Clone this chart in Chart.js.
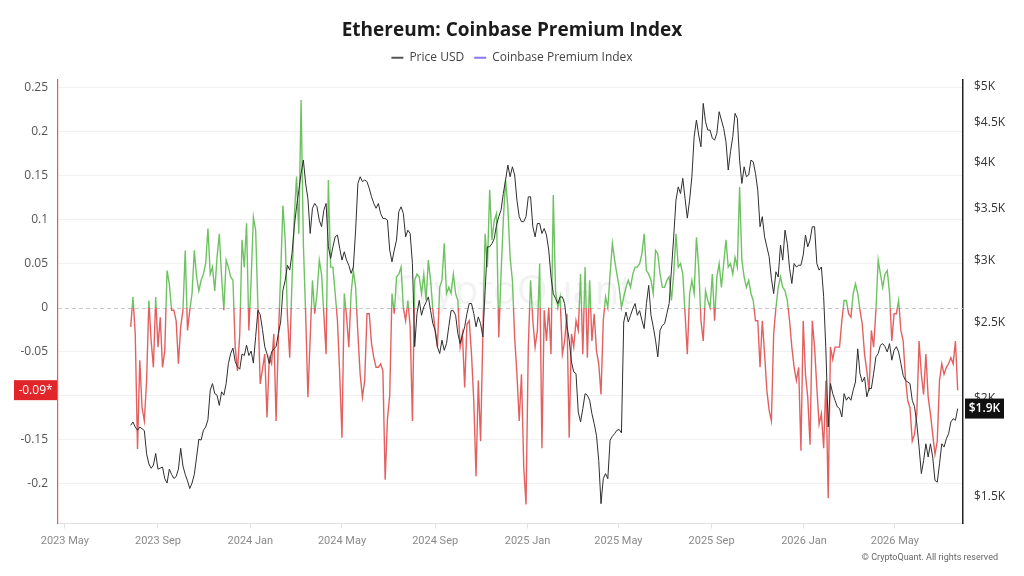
<!DOCTYPE html>
<html>
<head>
<meta charset="utf-8">
<script src="https://cdn.jsdelivr.net/npm/chart.js@4.4.1/dist/chart.umd.min.js"></script>
<style>
html,body{margin:0;padding:0;background:#fff;}
#wrap{position:relative;width:1024px;height:576px;}
canvas{display:block;}
</style>
</head>
<body>
<div id="wrap"><canvas id="c" width="1024" height="576"></canvas></div>
<script>
// ---------- data ----------
const startDate = '2023-07-27';
const stepDays = 3;

const premium = [
 -0.022, 0.012, -0.03, -0.161, -0.06, -0.114, -0.129, -0.083, 0.008, -0.038,
 -0.068, 0.012, -0.045, -0.011, -0.068, -0.049, 0.042, 0.027, -0.003, -0.003,
 -0.015, -0.064, -0.022, -0.003, 0.065, -0.026, -0.003, 0.016, 0.065, 0.035,
 0.019, 0.031, 0.038, 0.050, 0.090, 0.038, 0.046, 0.019, 0.057, 0.084,
 0.035, -0.003, 0.054, 0.046, 0.035, 0.031, -0.045, -0.072, -0.030, 0.077,
 0.046, 0.096, -0.026, 0.031, 0.103, 0.088, 0.0, -0.087, -0.07, -0.053,
 -0.125, -0.057, -0.064, -0.030, -0.129, -0.034, 0.038, 0.116, 0.077, -0.01,
 -0.057, 0.031, 0.103, 0.149, 0.084, 0.236, 0.072, -0.007, -0.102, -0.034,
 0.031, -0.007, 0.016, 0.054, 0.038, -0.007, -0.053, 0.145, 0.046, 0.046,
 0.016, -0.015, -0.076, -0.148, 0.016, -0.01, -0.045, 0.016, 0.042, 0.023,
 -0.030, -0.076, -0.102, -0.083, -0.007, -0.007, -0.041, -0.057, -0.068, -0.068,
 -0.064, -0.072, -0.196, -0.127, -0.100, 0.016, -0.007, 0.035, 0.038, 0.046,
 0.0, -0.015, 0.008, -0.022, -0.129, 0.031, 0.038, 0.035, 0.016, 0.038,
 0.008, 0.054, 0.031, -0.003, -0.026, -0.045, 0.023, 0.031, 0.073, 0.016,
 0.023, 0.016, 0.038, 0.016, 0.008, -0.045, -0.030, -0.091, -0.019, -0.015,
 -0.053, -0.106, -0.192, -0.083, -0.152, -0.030, 0.084, 0.046, 0.134, 0.077,
 0.099, 0.107, -0.034, 0.038, 0.099, 0.145, 0.114, 0.057, 0.031, -0.034,
 -0.076, -0.129, -0.076, -0.182, -0.224, -0.045, 0.031, -0.015, -0.045, -0.026,
 0.050, -0.160, -0.003, -0.038, 0.0, -0.053, 0.128, 0.019, 0.0, 0.012,
 -0.053, -0.038, -0.007, -0.148, -0.030, -0.045, -0.015, -0.026, 0.038, -0.053,
 0.046, -0.057, 0.031, -0.038, -0.007, -0.049, -0.064, -0.099, -0.015, 0.012,
 0.0, 0.038, 0.073, 0.054, 0.038, 0.023, 0.0, 0.012, 0.023, 0.031,
 0.023, 0.038, 0.046, 0.046, 0.050, 0.061, 0.084, 0.042, 0.038, 0.031,
 0.016, 0.065, 0.061, 0.038, 0.023, 0.023, 0.031, 0.035, 0.008, 0.038,
 0.084, 0.046, 0.050, 0.038, -0.007, -0.053, 0.016, 0.031, 0.016, 0.080,
 0.046, -0.015, -0.038, 0.019, 0.008, 0.0, 0.038, -0.015, 0.035, 0.050,
 0.023, 0.050, 0.077, 0.046, 0.050, 0.038, 0.057, 0.046, 0.137, 0.054,
 0.035, 0.023, 0.031, 0.016, 0.008, -0.015, -0.015, -0.068, -0.015, -0.053,
 -0.094, -0.117, -0.129, -0.030, 0.0, 0.023, 0.035, 0.023, 0.019, 0.008,
 -0.015, -0.045, -0.068, -0.083, -0.068, -0.163, -0.015, -0.076, -0.102, -0.156,
 -0.015, -0.045, -0.091, -0.133, -0.121, -0.160, -0.083, -0.217, -0.045, -0.059,
 -0.045, -0.045, -0.045, -0.015, 0.008, 0.008, -0.007, -0.011, 0.016, 0.027,
 0.016, -0.003, -0.019, -0.053, -0.072, -0.095, -0.026, -0.045, -0.003, 0.054,
 0.038, 0.023, 0.038, 0.042, 0.016, -0.038, -0.007, -0.007, 0.008, -0.026,
 -0.038, -0.080, -0.106, -0.114, -0.152, -0.144, -0.121, -0.038, -0.076, -0.099,
 -0.053, -0.102, -0.121, -0.144, -0.167, -0.152, -0.083, -0.064, -0.076, -0.068,
 -0.064, -0.057, -0.064, -0.038, -0.094
];

const price = [
 1849, 1867, 1839, 1822, 1839, 1830, 1820, 1700, 1650, 1629,
 1645, 1702, 1625, 1630, 1635, 1580, 1560, 1625, 1600, 1581,
 1590, 1625, 1728, 1640, 1600, 1570, 1535, 1560, 1600, 1684,
 1775, 1770, 1822, 1839, 1880, 2050, 2090, 2029, 2020, 1960,
 2040, 2020, 2090, 2217, 2283, 2320, 2230, 2195, 2180, 2280,
 2270, 2340, 2270, 2300, 2220, 2400, 2593, 2560, 2450, 2330,
 2280, 2217, 2294, 2315, 2330, 2421, 2505, 2750, 2832, 2960,
 2918, 3064, 3315, 3515, 3690, 3880, 4033, 3765, 3600, 3250,
 3500, 3550, 3515, 3380, 3315, 3480, 3550, 3125, 3020, 3125,
 3218, 3235, 3110, 3005, 3080, 3005, 2960, 2890, 2945, 3282,
 3765, 3840, 3785, 3803, 3785, 3710, 3620, 3550, 3500, 3550,
 3447, 3397, 3397, 3380, 3095, 2990, 3095, 3187, 3465, 3515,
 3447, 3218, 3282, 3250, 2975, 2330, 2568, 2670, 2555, 2618,
 2655, 2697, 2590, 2493, 2445, 2330, 2283, 2375, 2305, 2351,
 2470, 2590, 2590, 2555, 2421, 2351, 2410, 2470, 2568, 2645,
 2645, 2568, 2470, 2543, 2493, 2398, 2750, 3125, 3125, 3155,
 3200, 3330, 3415, 3480, 3655, 3803, 3974, 3840, 3954, 3860,
 3585, 3415, 3365, 3365, 3415, 3620, 3620, 3315, 3218, 3347,
 3347, 3250, 3298, 3235, 3095, 2860, 2723, 2684, 2645, 2697,
 2697, 2645, 2480, 2375, 2228, 2163, 2152, 1922, 1867, 1942,
 2029, 2019, 1990, 1913, 1858, 1795, 1667, 1468, 1580, 1604,
 1580, 1769, 1790, 1804, 1822, 1826, 1808, 2505, 2580, 2505,
 2555, 2605, 2645, 2555, 2590, 2518, 2457, 2645, 2790, 2555,
 2470, 2375, 2261, 2445, 2480, 2493, 2568, 2645, 2918, 3218,
 3585, 3728, 3655, 3822, 3600, 3400, 3585, 3841, 4320, 4537,
 4342, 4194, 4765, 4515, 4405, 4405, 4300, 4278, 4363, 4650,
 4537, 4427, 4257, 3917, 4133, 4320, 4627, 4560, 4033, 3765,
 3954, 3841, 3860, 4033, 4013, 3879, 3690, 3315, 3415, 3218,
 3125, 3035, 2846, 2723, 2904, 2860, 3140, 3005, 3282, 3155,
 2932, 2805, 2975, 2945, 2960, 2960, 3050, 3235, 3125, 3187,
 3315, 3315, 2975, 2918, 2945, 2700, 2300, 1840, 2090, 2029,
 1990, 1952, 1942, 1895, 2029, 1990, 2010, 1990, 2050, 2100,
 2315, 2152, 2100, 2130, 2010, 2060, 2060, 2152, 2261, 2283,
 2340, 2351, 2330, 2294, 2351, 2239, 2305, 2330, 2294, 2217,
 2141, 2110, 2100, 2090, 1990, 1952, 1858, 1734, 1604, 1667,
 1751, 1684, 1751, 1684, 1572, 1564, 1651, 1751, 1734, 1777,
 1804, 1867, 1885, 1876, 1942
];

const premiumTicks = [-0.2, -0.15, -0.1, -0.05, 0, 0.05, 0.1, 0.15, 0.2, 0.25];
const priceTicks = [1500, 2000, 2500, 3000, 3500, 4000, 4500, 5000];
const monthTickDates = ['2023-05-01','2023-09-01','2024-01-01','2024-05-01','2024-09-01',
                        '2025-01-01','2025-05-01','2025-09-01','2026-01-01','2026-05-01'];
const monthTickLabels = ['2023 May','2023 Sep','2024 Jan','2024 May','2024 Sep',
                         '2025 Jan','2025 May','2025 Sep','2026 Jan','2026 May'];
const axisStartDate = '2023-04-22';
const axisEndDate = '2026-07-30';
const premiumRange = [-0.2457, 0.2589];
const priceRange = [1385, 5104];

// ---------- helpers ----------
const DAY = 86400000;
const ORIGIN = Date.UTC(2023, 4, 1);
function dayOf(s){ const [y,m,d] = s.split('-').map(Number); return (Date.UTC(y, m-1, d) - ORIGIN) / DAY; }
const startDay = dayOf(startDate);
const premiumPoints = premium.map((v,i) => ({x: startDay + i*stepDays, y: v}));
const pricePoints = price.map((v,i) => ({x: startDay + i*stepDays, y: v}));

const GREEN = '#6ec262';
const RED = '#e46060';
const PURPLE = '#8878f0';

function premiumColor(context){
  const ch = context.chart;
  const a = ch.chartArea;
  if (!a || !ch.scales.yPrem) return RED;
  const y0 = ch.scales.yPrem.getPixelForValue(0);
  const t = Math.min(Math.max((y0 - a.top) / (a.bottom - a.top), 0), 1);
  const g = ch.ctx.createLinearGradient(0, a.top, 0, a.bottom);
  g.addColorStop(0, GREEN); g.addColorStop(t, GREEN);
  g.addColorStop(t, RED); g.addColorStop(1, RED);
  return g;
}

const decorPlugin = {
  id: 'decor',
  beforeDatasetsDraw(chart){
    const {ctx, chartArea: a, scales} = chart;
    ctx.save();
    // watermark
    ctx.font = "40px 'Open Sans', sans-serif";
    ctx.fillStyle = 'rgba(90,90,90,0.08)';
    ctx.textAlign = 'center'; ctx.textBaseline = 'middle';
    ctx.fillText('CryptoQuant', 513, 293);
    // zero line
    const y0 = Math.round(scales.yPrem.getPixelForValue(0)) + 0.5;
    ctx.strokeStyle = '#c8c8c8'; ctx.lineWidth = 1; ctx.setLineDash([4,3]);
    ctx.beginPath(); ctx.moveTo(a.left, y0); ctx.lineTo(a.right, y0); ctx.stroke();
    ctx.restore();
  },
  afterDraw(chart){
    const {ctx, scales} = chart;
    ctx.save();
    ctx.textAlign = 'center'; ctx.textBaseline = 'middle';
    // last premium badge
    const lp = premium[premium.length-1];
    const yl = scales.yPrem.getPixelForValue(lp);
    ctx.fillStyle = '#e0262b';
    ctx.fillRect(14, yl - 10, 43, 20);
    ctx.fillStyle = '#fff';
    ctx.font = "12px 'Open Sans', sans-serif";
    ctx.fillText(lp.toFixed(2) + '*', 35.5, yl + 0.5);
    // last price badge
    const pr = price[price.length-1];
    const yr = scales.yPrice.getPixelForValue(pr);
    ctx.fillStyle = '#111';
    ctx.fillRect(965, yr - 10, 39, 20);
    ctx.fillStyle = '#fff';
    ctx.font = "600 12px 'Open Sans', sans-serif";
    ctx.fillText('$' + (Math.floor(pr/100)/10) + 'K', 984.5, yr + 0.5);
    // copyright
    ctx.textAlign = 'right';
    ctx.font = "9px 'Roboto', sans-serif";
    ctx.fillStyle = '#666';
    ctx.fillText('\u00A9 CryptoQuant. All rights reserved', 998, 558);
    ctx.restore();
  }
};

Chart.defaults.font.family = "'Open Sans', sans-serif";

new Chart(document.getElementById('c'), {
  type: 'line',
  data: {
    datasets: [
      { label: 'Price USD', data: pricePoints, yAxisID: 'yPrice', xAxisID: 'x',
        borderColor: '#2e2e2e', borderWidth: 1, pointRadius: 0, tension: 0, fill: false },
      { label: 'Coinbase Premium Index', data: premiumPoints, yAxisID: 'yPrem', xAxisID: 'x',
        borderColor: premiumColor, borderWidth: 1.4, pointRadius: 0, tension: 0, fill: false }
    ]
  },
  options: {
    responsive: false,
    animation: false,
    layout: { padding: { left: 0, right: 0, top: 0, bottom: 22 } },
    plugins: {
      title: { display: true, text: 'Ethereum: Coinbase Premium Index', color: '#1b1b1b',
               font: { size: 19, weight: 'bold', lineHeight: 1.2 }, padding: { top: 19, bottom: 0 } },
      subtitle: { display: true, text: '', weight: 500, font: { size: 1, lineHeight: 1 },
                  padding: { top: 0, bottom: 5.2 } },
      legend: { display: true, position: 'top',
        labels: {
          boxWidth: 12, boxHeight: 2, padding: 10, color: '#444', font: { size: 12 },
          generateLabels: (chart) => [
            { text: 'Price USD', fillStyle: '#555', strokeStyle: '#555', lineWidth: 0, hidden: false, datasetIndex: 0, fontColor: '#444' },
            { text: 'Coinbase Premium Index', fillStyle: PURPLE, strokeStyle: PURPLE, lineWidth: 0, hidden: false, datasetIndex: 1, fontColor: '#444' }
          ]
        }
      },
      tooltip: { enabled: false }
    },
    scales: {
      x: {
        type: 'linear', position: 'bottom',
        min: dayOf(axisStartDate), max: dayOf(axisEndDate),
        afterBuildTicks: (s) => { s.ticks = monthTickDates.map(d => ({ value: dayOf(d) })); },
        afterFit: (s) => { s.height = 30.5; },
        ticks: { callback: (v, i) => monthTickLabels[i], color: '#8a8a8a', autoSkip: false, maxRotation: 0,
                 font: { size: 11, family: "'Roboto', sans-serif" }, padding: 6 },
        grid: { drawOnChartArea: false, drawTicks: true, tickLength: 5, color: '#e2e2e2' },
        border: { color: '#e2e2e2', width: 1 }
      },
      yPrem: {
        type: 'linear', position: 'left',
        min: premiumRange[0], max: premiumRange[1],
        afterBuildTicks: (s) => { s.ticks = premiumTicks.map(v => ({ value: v })); },
        afterFit: (s) => { s.width = 58; },
        ticks: { callback: (v) => String(Number(Number(v).toFixed(2))), color: '#555', font: { size: 12 }, padding: 10 },
        grid: { drawTicks: false, color: (c) => (c.tick && Math.abs(c.tick.value) < 1e-9) ? 'rgba(0,0,0,0)' : '#f1f1f1' },
        border: { color: '#e35d5d', width: 1.2 }
      },
      yPrice: {
        type: 'logarithmic', position: 'right',
        min: priceRange[0], max: priceRange[1],
        afterBuildTicks: (s) => { s.ticks = priceTicks.map(v => ({ value: v })); },
        afterFit: (s) => { s.width = 61; },
        ticks: { callback: (v) => '$' + (Number(v)/1000) + 'K', color: '#333', font: { size: 12 }, padding: 11 },
        grid: { display: false, drawOnChartArea: false, drawTicks: false },
        border: { display: true, color: '#222', width: 1.5 }
      }
    }
  },
  plugins: [decorPlugin]
});
</script>
</body>
</html>
